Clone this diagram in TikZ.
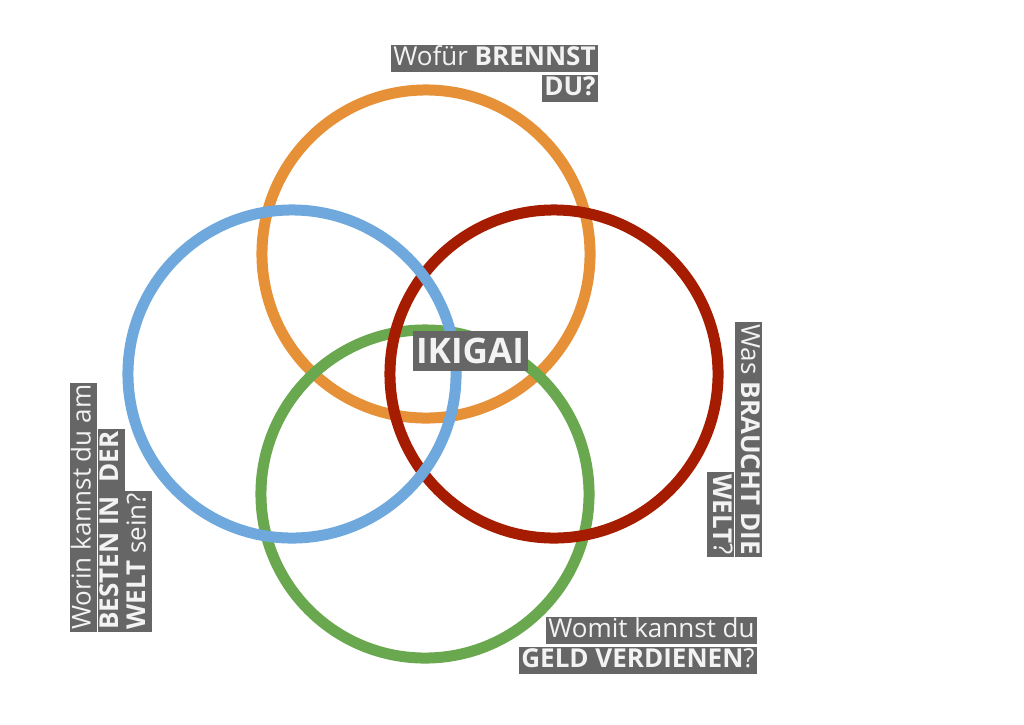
\documentclass[tikz,border=0pt]{standalone}
\usepackage{fontspec}
\setmainfont{Open Sans}
\usepackage{xcolor}
\usetikzlibrary{positioning}
\definecolor{ikorange}{HTML}{E69138}
\definecolor{ikblue}{HTML}{6FA8DC}
\definecolor{ikred}{HTML}{A61C00}
\definecolor{ikgreen}{HTML}{6AA84F}
\definecolor{ikgray}{HTML}{666666}
\definecolor{iktext}{HTML}{F3F3F3}
\tikzset{
  ring/.style={draw=#1,circle,line width=0.275cm,minimum size=8.2cm,inner sep=0pt},
  qline/.style={fill=ikgray,text=iktext,inner xsep=1.5pt,inner ysep=0pt,
    text height=14.5pt,text depth=4.6pt,font=\fontsize{18.5}{22}\selectfont},
  center/.style={fill=ikgray,text=iktext,inner xsep=2.5pt,inner ysep=5pt,
    font=\fontsize{25}{30}\selectfont\bfseries}
}

\begin{document}
\begin{tikzpicture}[x=0.025cm,y=-0.025cm]
    \useasboundingbox (0,0) rectangle (1024,724);
    % the four rings
    \node[ring=ikorange] (passion) at (426,254) {};
    \node[ring=ikgreen] (profession) at (425,494) {};
    \node[ring=ikred] (mission) at (554,374) {};
    \node[ring=ikblue] (talent) at (292,374) {};
    \node[center] (ikigai) at (470,351) {IKIGAI};
    % top question
    \node[qline,anchor=north east] (top1) at (598,45) {Wofür \textbf{BRENNST}};
    \node[qline,below=1.5pt of top1.south east,anchor=north east] (top2) {\textbf{DU?}};
    % right question
    \node[qline,rotate=-90,anchor=north east] (right1) at (762,557) {Was \textbf{BRAUCHT DIE}};
    \node[qline,rotate=-90,anchor=north east] (right2) at (right1.south east) {\textbf{WELT}?};
    % bottom question
    \node[qline,anchor=north east] (bot1) at (757,617) {Womit kannst du};
    \node[qline,below=1.5pt of bot1.south east,anchor=north east] (bot2) {\textbf{GELD VERDIENEN}?};
    % left question
    \node[qline,rotate=90,anchor=north west] (left1) at (70,632) {Worin kannst du am};
    \node[qline,rotate=90,anchor=north west] (left2) at (left1.south west) {\textbf{BESTEN IN\ \ DER}};
    \node[qline,rotate=90,anchor=north west] (left3) at (left2.south west) {\textbf{WELT} sein?};
\end{tikzpicture}
\end{document}
